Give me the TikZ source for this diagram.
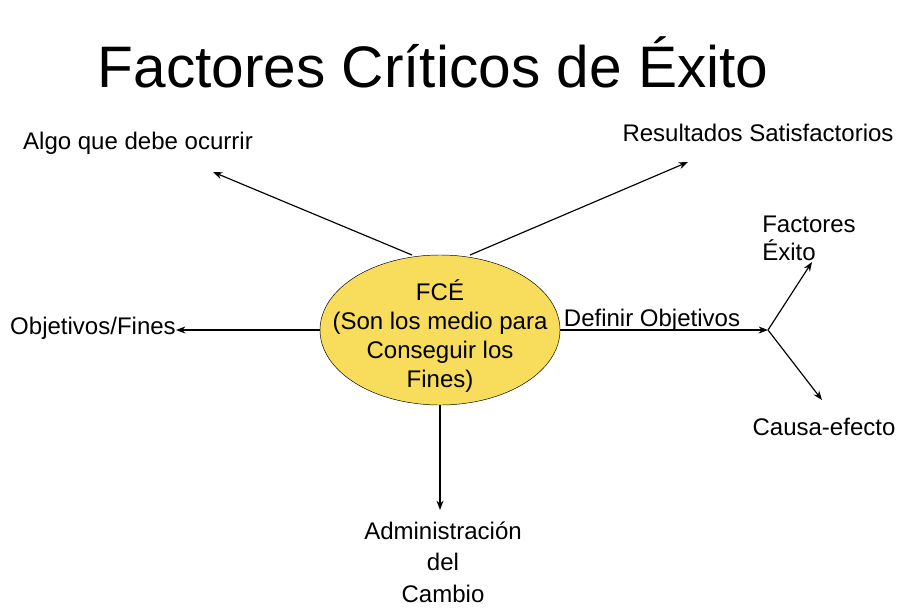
\documentclass[tikz,border=0pt]{standalone}
\usepackage{fontspec}
\setmainfont{Liberation Sans}
\usetikzlibrary{shapes.geometric, positioning, arrows.meta}
\definecolor{fceyellow}{HTML}{F8DC5C}
\tikzset{
	lbl/.style={font=\fontsize{20.5}{24}\selectfont, align=center, inner sep=1pt},
	arr/.style={-{Stealth[length=8pt,width=6pt]}, line width=1pt},
}
\begin{document}
\begin{tikzpicture}[x=0.03cm, y=-0.03cm]
	\useasboundingbox (0,0) rectangle (908,612);
	\node[font=\fontsize{50}{54}\selectfont] (title) at (433,62) {Factores Críticos de Éxito};

	\node[ellipse, draw, fill=fceyellow, minimum width=7.2cm, minimum height=4.5cm, inner sep=0pt] (fce) at (440,330) {};
	\node[lbl, font=\fontsize{20.5}{25}\selectfont] (fcetext) at (440,336) {FCÉ\\(Son los medio para\\Conseguir los\\Fines)};

	\node[lbl] (algo) at (138,143) {Algo que debe ocurrir};
	\node[lbl] (res) at (758,133) {Resultados Satisfactorios};
	\node[lbl] (obj) at (93,328) {Objetivos/Fines};
	\node[lbl] (def) at (652,320) {Definir Objetivos};
	\node[lbl, align=left] (fact) at (809,238) {Factores\\Éxito};
	\node[lbl] (causa) at (824,427) {Causa-efecto};
	\node[lbl, font=\fontsize{20.5}{27}\selectfont] (adm) at (443,562) {Administración\\del\\Cambio};

	\coordinate (a1) at (412,255);
	\coordinate (a2) at (213,172);
	\coordinate (b1) at (470,255);
	\coordinate (b2) at (688,162);
	\coordinate (c1) at (176,330);
	\coordinate (d1) at (768,330);
	\coordinate (e1) at (812,262);
	\coordinate (f1) at (822,400);
	\coordinate (g1) at (440,510);

	\draw[arr] (a1) -- (a2);
	\draw[arr] (b1) -- (b2);
	\draw[arr] (fce.west) -- (c1);
	\draw[arr] (fce.east) -- (d1);
	\draw[arr] (d1) -- (e1);
	\draw[arr] (d1) -- (f1);
	\draw[arr] (fce.south) -- (g1);
\end{tikzpicture}
\end{document}
